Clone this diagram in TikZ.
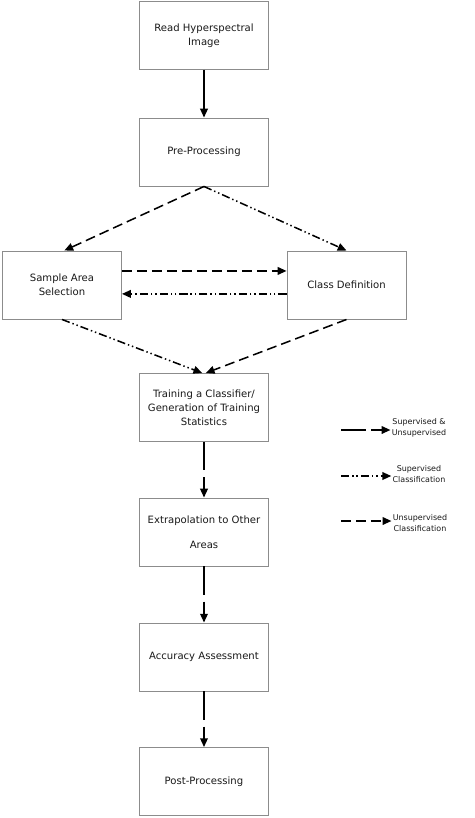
\documentclass[tikz,border=0pt]{standalone}
\usepackage{fontspec}
\setmainfont{DejaVu Sans}
\usetikzlibrary{arrows.meta}
\definecolor{boxline}{HTML}{8C8C8C}
\definecolor{ink}{HTML}{1A1A1A}
\begin{document}
\begin{tikzpicture}[x=0.03cm, y=-0.03cm,
	stepbox/.style={shape=rectangle, draw=boxline, line width=0.8pt, fill=white, text=ink, align=center, minimum width=3.87cm, minimum height=2.04cm, inner sep=2pt, font=\fontsize{8.6}{12}\selectfont},
	sidebox/.style={stepbox, minimum width=3.57cm},
	keytext/.style={align=center, inner sep=1pt, text=ink, font=\fontsize{6.8}{9.4}\selectfont},
	wire/.style={line width=1.3pt, -{Triangle[length=7.5pt, width=6.5pt]}},
	both/.style={wire, dash pattern=on 24pt off 6pt on 60pt},
	superv/.style={wire, dash pattern=on 7pt off 2.5pt on 1.2pt off 2.5pt on 1.2pt off 2.5pt},
	unsuperv/.style={wire, dash pattern=on 8.5pt off 4.3pt}]
	\useasboundingbox (0,0) rectangle (474,818);
	% Boxes:
	\node[stepbox] (read) at (204, 35.5) {Read Hyperspectral\\Image};
	\node[stepbox] (pre) at (204, 152) {Pre-Processing};
	\node[sidebox] (sample) at (62, 285) {Sample Area\\Selection};
	\node[sidebox] (classdef) at (346.5, 285) {Class Definition};
	\node[stepbox] (train) at (204, 407.5) {Training a Classifier/\\Generation of Training\\Statistics};
	\node[stepbox, font=\fontsize{8.6}{21}\selectfont] (extra) at (204, 532) {Extrapolation to Other\\Areas};
	\node[stepbox] (acc) at (204, 657) {Accuracy Assessment};
	\node[stepbox] (post) at (204, 781.5) {Post-Processing};
	% Wires:
	\draw[wire] (read) -- (pre);
	\draw[unsuperv] (pre.south) -- ([xshift=2pt]sample.north);
	\draw[superv] (pre.south) -- (classdef.north);
	\draw[unsuperv] ([yshift=12pt]sample.east) -- ([yshift=12pt]classdef.west);
	\draw[superv] ([yshift=-7.6pt]classdef.west) -- ([yshift=-7.6pt]sample.east);
	\draw[superv] (sample.south) -- ([xshift=-1.5pt]train.north);
	\draw[unsuperv] (classdef.south) -- ([xshift=1.5pt]train.north);
	\draw[both] (train) -- (extra);
	\draw[both] (extra) -- (acc);
	\draw[both] (acc) -- (post);
	% Key:
	\node[keytext] (keyA) at (419, 427.5) {Supervised \&\\Unsupervised};
	\node[keytext] (keyB) at (419, 474.5) {Supervised\\Classification};
	\node[keytext] (keyC) at (420, 523.5) {Unsupervised\\Classification};
	\coordinate (keyAs) at (341, 430);
	\coordinate (keyBs) at (341, 476);
	\coordinate (keyCs) at (341, 521);
	\draw[wire, dash pattern=on 21pt off 5pt on 40pt] (keyAs) -- (keyAs -| keyA.west);
	\draw[superv] (keyBs) -- (keyBs -| keyB.west);
	\draw[unsuperv] (keyCs) -- (keyCs -| keyC.west);
\end{tikzpicture}
\end{document}
